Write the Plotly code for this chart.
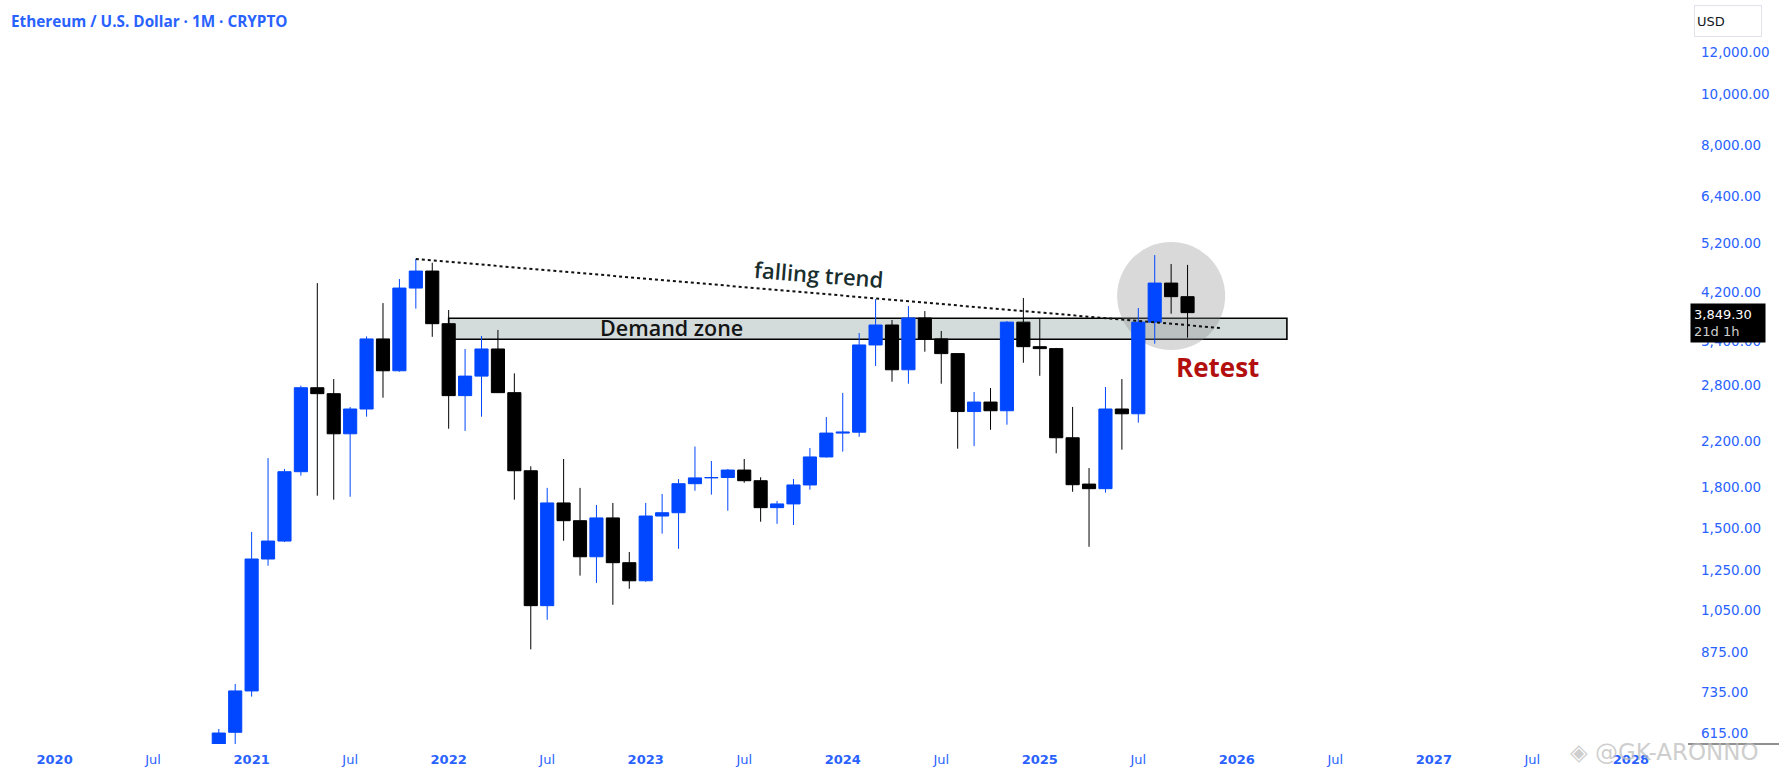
import math
import plotly.graph_objects as go

# ---------------- data ----------------
months = ["2020-11", "2020-12",
          "2021-01", "2021-02", "2021-03", "2021-04", "2021-05", "2021-06",
          "2021-07", "2021-08", "2021-09", "2021-10", "2021-11", "2021-12",
          "2022-01", "2022-02", "2022-03", "2022-04", "2022-05", "2022-06",
          "2022-07", "2022-08", "2022-09", "2022-10", "2022-11", "2022-12",
          "2023-01", "2023-02", "2023-03", "2023-04", "2023-05", "2023-06",
          "2023-07", "2023-08", "2023-09", "2023-10", "2023-11", "2023-12",
          "2024-01", "2024-02", "2024-03", "2024-04", "2024-05", "2024-06",
          "2024-07", "2024-08", "2024-09", "2024-10", "2024-11", "2024-12",
          "2025-01", "2025-02", "2025-03", "2025-04", "2025-05", "2025-06",
          "2025-07", "2025-08", "2025-09", "2025-10"]

open_ = [387, 617,
         739, 1314, 1421, 1923, 2774, 2703,
         2269, 2528, 3432, 2987, 4285, 4615,
         3668, 2680, 2918, 3285, 2715, 1931,
         1072, 1678, 1553, 1327, 1572, 1293,
         1195, 1585, 1608, 1825, 1872, 1875,
         1937, 1849, 1644, 1671, 1815, 2051,
         2276, 2285, 3343, 3647, 3000, 3760,
         3432, 3219, 2500, 2606, 2509, 3693,
         3318, 3290, 2230, 1822, 1786, 2528,
         2476, 3693, 4379, 4127]

high = [626, 762,
        1479, 2041, 1946, 2799, 4379, 2881,
        2550, 3470, 4013, 4457, 4865, 4786,
        3893, 3285, 3476, 3569, 2953, 1969,
        1792, 2033, 1792, 1663, 1678, 1355,
        1678, 1745, 1862, 2146, 2015, 1946,
        2033, 1877, 1693, 1863, 2133, 2441,
        2712, 3522, 4085, 3728, 3963, 3876,
        3553, 3225, 2723, 2771, 3710, 4104,
        3743, 3300, 2551, 1954, 2783, 2881,
        3928, 4948, 4758, 4740]

low = [375, 535,
       721, 1276, 1415, 1890, 1732, 1702,
       1724, 2445, 2656, 2975, 3917, 3464,
       2320, 2298, 2445, 2710, 1702, 886,
       1008, 1423, 1222, 1184, 1076, 1154,
       1190, 1468, 1374, 1770, 1740, 1622,
       1833, 1546, 1532, 1524, 1778, 2045,
       2099, 2240, 3049, 2848, 2823, 3246,
       2823, 2126, 2150, 2309, 2361, 3093,
       2922, 2084, 1762, 1386, 1755, 2117,
       2382, 3362, 3831, 3451]

close = [615, 739,
         1314, 1421, 1923, 2774, 2703, 2269,
         2528, 3432, 2987, 4285, 4615, 3668,
         2680, 2918, 3285, 2715, 1931, 1072,
         1678, 1553, 1327, 1572, 1293, 1195,
         1585, 1608, 1825, 1872, 1875, 1937,
         1849, 1644, 1671, 1815, 2051, 2276,
         2285, 3343, 3647, 3000, 3760, 3432,
         3219, 2500, 2606, 2509, 3693, 3318,
         3290, 2230, 1817, 1786, 2528, 2476,
         3693, 4379, 4127, 3849.3]

last_price = 3849.30
last_label = "3,849.30"
countdown = "21d 1h"

price_ticks = [615, 735, 875, 1050, 1250, 1500, 1800, 2200, 2800, 3400,
               4200, 5200, 6400, 8000, 10000, 12000]

time_tick_months = ["2020-01", "2020-07", "2021-01", "2021-07", "2022-01", "2022-07",
                    "2023-01", "2023-07", "2024-01", "2024-07", "2025-01", "2025-07",
                    "2026-01", "2026-07", "2027-01", "2027-07", "2028-01"]
time_tick_labels = ["2020", "Jul", "2021", "Jul", "2022", "Jul", "2023", "Jul",
                    "2024", "Jul", "2025", "Jul", "2026", "Jul", "2027", "Jul", "2028"]

# demand zone (price band) and its time span
zone_months = ["2022-01", "2026-04"]
zone_prices = [3427, 3757]

# falling trend line (from the Nov-2021 high)
trend_months = ["2021-11", "2025-12"]
trend_prices = [4865, 3600]

# retest highlight circle (centre)
retest_month = "2025-09"
retest_price = 4139

# text labels
demand_label_pos = ("2023-02", 3552)
trend_label_pos = ("2023-11", 4556)
retest_label_pos = ("2025-12", 3036)

# ---------------- helpers ----------------
def mi(ym):
    """month index since Jan 2020 (equal spacing per bar, like TradingView)"""
    y, m = ym.split("-")
    return (int(y) - 2020) * 12 + int(m) - 1

BLUE = "#0047ff"
LABEL_BLUE = "#2962ff"
AXFONT = "DejaVu Sans"

# circle radius: 54 px  -> in month units (16.42 px / month) and decades (527.8 px / decade)
R_MONTHS = 54 / 16.42
R_DECADES = 54 / 527.8

x = [mi(m) for m in months]

fig = go.Figure()

fig.add_trace(go.Candlestick(
    x=x, open=open_, high=high, low=low, close=close,
    increasing=dict(line=dict(color=BLUE, width=1), fillcolor=BLUE),
    decreasing=dict(line=dict(color="#000000", width=1), fillcolor="#000000"),
    whiskerwidth=0, showlegend=False, hoverinfo="skip",
))

# falling trend (dotted)
fig.add_trace(go.Scatter(
    x=[mi(m) for m in trend_months], y=trend_prices, mode="lines",
    line=dict(color="#111111", width=2, dash="dot"),
    showlegend=False, hoverinfo="skip",
))

shapes = [
    dict(type="rect", xref="x", yref="y",
         x0=mi(zone_months[0]), x1=mi(zone_months[1]) + 0.05,
         y0=zone_prices[0], y1=zone_prices[1],
         fillcolor="#d3dbdb", line=dict(color="#000000", width=1.6), layer="below"),
    dict(type="circle", xref="x", yref="y",
         x0=mi(retest_month) - R_MONTHS, x1=mi(retest_month) + R_MONTHS,
         y0=retest_price / 10 ** R_DECADES, y1=retest_price * 10 ** R_DECADES,
         fillcolor="rgba(140,140,140,0.33)", line=dict(width=0), layer="below"),
    # short border under the price scale
    dict(type="line", xref="paper", yref="paper", x0=1688 / 1690, x1=1779 / 1690,
         y0=0.0, y1=0.0, line=dict(color="#222222", width=1.2)),
]

annotations = [
    dict(xref="paper", yref="paper", x=9 / 1690, y=1 - 21 / 744, xanchor="left", yanchor="middle",
         text="<b>Ethereum / U.S. Dollar · 1M · CRYPTO</b>", showarrow=False,
         font=dict(family="Open Sans", size=15.3, color=LABEL_BLUE)),
    dict(xref="x", yref="y", x=mi(demand_label_pos[0]) + 0.55, y=math.log10(demand_label_pos[1]),
         yshift=4,
         text="Demand zone", showarrow=False, xanchor="center", yanchor="middle",
         font=dict(family="Open Sans", size=21.5, weight=600, color="#141414")),
    dict(xref="x", yref="y", x=mi(trend_label_pos[0]) + 0.58, y=math.log10(trend_label_pos[1]),
         text="falling trend", showarrow=False, xanchor="center", yanchor="middle", textangle=4.5,
         font=dict(family="Open Sans", size=22, weight=600, color="#1a2e2e")),
    dict(xref="x", yref="y", x=mi(retest_label_pos[0]) - 0.18, y=math.log10(retest_label_pos[1]),
         text="<b>Retest</b>", showarrow=False, xanchor="center", yanchor="middle",
         font=dict(family="Open Sans", size=26, color="#b30f0f")),
    # last price label
    dict(xref="paper", yref="y", x=1.0, y=math.log10(last_price), xanchor="left", yanchor="top",
         yshift=10, text=last_label + "<br><span style='color:#cfcfcf'>" + countdown + "</span>",
         showarrow=False, align="left", bgcolor="#000000", borderpad=3, width=68,
         font=dict(family=AXFONT, size=13, color="#ffffff")),
    # currency box
    dict(xref="paper", yref="paper", x=1694 / 1690, y=1 - 5 / 744, xanchor="left", yanchor="top",
         text="USD", showarrow=False, align="left", width=62, height=26, borderpad=2,
         bordercolor="#e0e3eb", borderwidth=1, bgcolor="#ffffff",
         font=dict(family=AXFONT, size=13, color="#131722")),
    # watermark
    dict(xref="paper", yref="paper", x=1568 / 1690, y=1 - 752 / 744, xanchor="left", yanchor="middle",
         text="◈ @GK-ARONNO", showarrow=False,
         font=dict(family="DejaVu Sans", size=23, color="rgba(190,190,190,0.75)")),
]

fig.update_layout(
    width=1779, height=779,
    margin=dict(l=0, r=89, t=0, b=35, autoexpand=False),
    paper_bgcolor="#ffffff", plot_bgcolor="#ffffff",
    showlegend=False,
    boxgap=0.2, boxgroupgap=0,
    shapes=shapes, annotations=annotations,
    hovermode=False,
    xaxis=dict(
        type="linear", range=[-3.325, 99.6],
        tickvals=[mi(m) for m in time_tick_months],
        ticktext=[("<b>%s</b>" % t) if t != "Jul" else t for t in time_tick_labels],
        tickfont=dict(family=AXFONT, size=13, color=LABEL_BLUE),
        showgrid=False, zeroline=False, showline=False, ticks="",
        ticklabelstandoff=6,
        rangeslider=dict(visible=False), fixedrange=True, automargin=False,
    ),
    yaxis=dict(
        type="log", side="right", range=[2.7681, 4.1777],
        tickvals=price_ticks,
        ticktext=[f"{v:,.2f}" for v in price_ticks],
        tickfont=dict(family=AXFONT, size=13.5, color=LABEL_BLUE),
        showgrid=False, zeroline=False, showline=False, ticks="",
        ticklabelstandoff=10, automargin=False, fixedrange=True,
    ),
)

fig.write_html("out.html", config={"displayModeBar": False},
               post_script="document.body.style.margin='0px';document.body.style.overflow='hidden';")
